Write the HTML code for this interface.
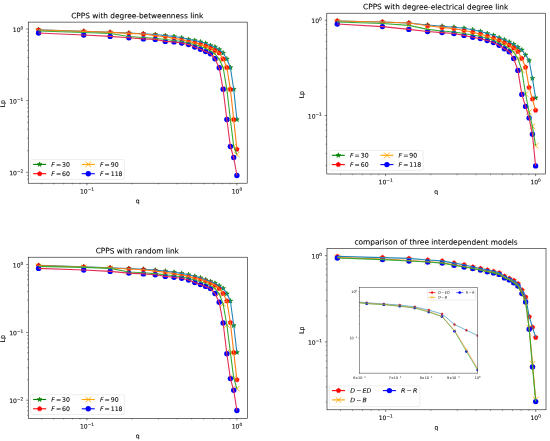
<!DOCTYPE html>
<html><head><meta charset="utf-8"><title>figure</title><style>html,body{margin:0;padding:0;background:#fff}svg{display:block;filter:blur(0.35px)}</style></head><body>
<svg width="550" height="441" viewBox="0 0 550 441" font-family='"DejaVu Sans","Liberation Sans",sans-serif' fill="#000"><style>text{stroke:#000;stroke-width:0.08px}.in text{stroke:none}</style>
<rect width="550" height="441" fill="#fff"/>
<clipPath id="c1"><rect x="28.25" y="22.10" width="218.95" height="161.10"/></clipPath>
<text transform="translate(137.22 18.30) rotate(0.05)" font-size="7.40" text-anchor="middle">CPPS with degree-betweenness link</text>
<g clip-path="url(#c1)">
<polygon points="38.57,27.20 39.13,28.93 40.94,28.93 39.48,30.00 40.04,31.72 38.57,30.65 37.10,31.72 37.66,30.00 36.19,28.93 38.01,28.93" fill="#008000" stroke="#008000" stroke-width="0.61" stroke-linejoin="miter"/>
<polygon points="83.72,28.70 84.28,30.43 86.10,30.43 84.63,31.50 85.19,33.22 83.72,32.15 82.25,33.22 82.81,31.50 81.34,30.43 83.16,30.43" fill="#008000" stroke="#008000" stroke-width="0.61" stroke-linejoin="miter"/>
<polygon points="110.14,29.70 110.70,31.43 112.51,31.43 111.04,32.50 111.60,34.22 110.14,33.15 108.67,34.22 109.23,32.50 107.76,31.43 109.57,31.43" fill="#008000" stroke="#008000" stroke-width="0.61" stroke-linejoin="miter"/>
<polygon points="128.88,30.50 129.44,32.23 131.25,32.23 129.78,33.30 130.35,35.02 128.88,33.95 127.41,35.02 127.97,33.30 126.50,32.23 128.31,32.23" fill="#008000" stroke="#008000" stroke-width="0.61" stroke-linejoin="miter"/>
<polygon points="143.41,31.20 143.97,32.93 145.79,32.93 144.32,34.00 144.88,35.72 143.41,34.65 141.94,35.72 142.50,34.00 141.03,32.93 142.85,32.93" fill="#008000" stroke="#008000" stroke-width="0.61" stroke-linejoin="miter"/>
<polygon points="155.29,32.00 155.85,33.73 157.67,33.73 156.20,34.80 156.76,36.52 155.29,35.45 153.82,36.52 154.38,34.80 152.91,33.73 154.73,33.73" fill="#008000" stroke="#008000" stroke-width="0.61" stroke-linejoin="miter"/>
<polygon points="165.33,33.10 165.89,34.83 167.71,34.83 166.24,35.90 166.80,37.62 165.33,36.55 163.86,37.62 164.42,35.90 162.95,34.83 164.77,34.83" fill="#008000" stroke="#008000" stroke-width="0.61" stroke-linejoin="miter"/>
<polygon points="174.03,34.00 174.59,35.73 176.41,35.73 174.94,36.80 175.50,38.52 174.03,37.45 172.56,38.52 173.12,36.80 171.65,35.73 173.47,35.73" fill="#008000" stroke="#008000" stroke-width="0.61" stroke-linejoin="miter"/>
<polygon points="181.70,35.30 182.26,37.03 184.08,37.03 182.61,38.10 183.17,39.82 181.70,38.75 180.23,39.82 180.80,38.10 179.33,37.03 181.14,37.03" fill="#008000" stroke="#008000" stroke-width="0.61" stroke-linejoin="miter"/>
<polygon points="188.57,36.90 189.13,38.63 190.94,38.63 189.48,39.70 190.04,41.42 188.57,40.35 187.10,41.42 187.66,39.70 186.19,38.63 188.01,38.63" fill="#008000" stroke="#008000" stroke-width="0.61" stroke-linejoin="miter"/>
<polygon points="194.78,38.00 195.34,39.73 197.15,39.73 195.68,40.80 196.25,42.52 194.78,41.45 193.31,42.52 193.87,40.80 192.40,39.73 194.21,39.73" fill="#008000" stroke="#008000" stroke-width="0.61" stroke-linejoin="miter"/>
<polygon points="200.44,39.40 201.01,41.13 202.82,41.13 201.35,42.20 201.91,43.92 200.44,42.85 198.97,43.92 199.54,42.20 198.07,41.13 199.88,41.13" fill="#008000" stroke="#008000" stroke-width="0.61" stroke-linejoin="miter"/>
<polygon points="205.66,40.80 206.22,42.53 208.04,42.53 206.57,43.60 207.13,45.32 205.66,44.25 204.19,45.32 204.75,43.60 203.28,42.53 205.10,42.53" fill="#008000" stroke="#008000" stroke-width="0.61" stroke-linejoin="miter"/>
<polygon points="210.49,43.00 211.05,44.73 212.86,44.73 211.39,45.80 211.96,47.52 210.49,46.45 209.02,47.52 209.58,45.80 208.11,44.73 209.93,44.73" fill="#008000" stroke="#008000" stroke-width="0.61" stroke-linejoin="miter"/>
<polygon points="214.98,44.50 215.54,46.23 217.36,46.23 215.89,47.30 216.45,49.02 214.98,47.95 213.51,49.02 214.07,47.30 212.60,46.23 214.42,46.23" fill="#008000" stroke="#008000" stroke-width="0.61" stroke-linejoin="miter"/>
<polygon points="219.19,47.00 219.75,48.73 221.56,48.73 220.09,49.80 220.65,51.52 219.19,50.45 217.72,51.52 218.28,49.80 216.81,48.73 218.62,48.73" fill="#008000" stroke="#008000" stroke-width="0.61" stroke-linejoin="miter"/>
<polygon points="223.13,50.50 223.70,52.23 225.51,52.23 224.04,53.30 224.60,55.02 223.13,53.95 221.66,55.02 222.23,53.30 220.76,52.23 222.57,52.23" fill="#008000" stroke="#008000" stroke-width="0.61" stroke-linejoin="miter"/>
<polygon points="226.86,56.50 227.42,58.23 229.24,58.23 227.77,59.30 228.33,61.02 226.86,59.95 225.39,61.02 225.95,59.30 224.48,58.23 226.30,58.23" fill="#008000" stroke="#008000" stroke-width="0.61" stroke-linejoin="miter"/>
<polygon points="230.38,65.00 230.94,66.73 232.76,66.73 231.29,67.80 231.85,69.52 230.38,68.45 228.91,69.52 229.47,67.80 228.00,66.73 229.82,66.73" fill="#008000" stroke="#008000" stroke-width="0.61" stroke-linejoin="miter"/>
<polygon points="233.72,86.80 234.28,88.53 236.10,88.53 234.63,89.60 235.19,91.32 233.72,90.25 232.25,91.32 232.81,89.60 231.34,88.53 233.16,88.53" fill="#008000" stroke="#008000" stroke-width="0.61" stroke-linejoin="miter"/>
<polygon points="236.90,117.00 237.46,118.73 239.28,118.73 237.81,119.80 238.37,121.52 236.90,120.45 235.43,121.52 235.99,119.80 234.52,118.73 236.34,118.73" fill="#008000" stroke="#008000" stroke-width="0.61" stroke-linejoin="miter"/>
<polygon points="38.57,27.50 40.94,29.23 40.04,32.02 37.10,32.02 36.19,29.23" fill="#ff0000" stroke="#ff0000" stroke-width="0.37"/>
<polygon points="83.72,28.90 86.10,30.63 85.19,33.42 82.25,33.42 81.34,30.63" fill="#ff0000" stroke="#ff0000" stroke-width="0.37"/>
<polygon points="110.14,29.90 112.51,31.63 111.60,34.42 108.67,34.42 107.76,31.63" fill="#ff0000" stroke="#ff0000" stroke-width="0.37"/>
<polygon points="128.88,30.90 131.25,32.63 130.35,35.42 127.41,35.42 126.50,32.63" fill="#ff0000" stroke="#ff0000" stroke-width="0.37"/>
<polygon points="143.41,31.50 145.79,33.23 144.88,36.02 141.94,36.02 141.03,33.23" fill="#ff0000" stroke="#ff0000" stroke-width="0.37"/>
<polygon points="155.29,33.10 157.67,34.83 156.76,37.62 153.82,37.62 152.91,34.83" fill="#ff0000" stroke="#ff0000" stroke-width="0.37"/>
<polygon points="165.33,34.30 167.71,36.03 166.80,38.82 163.86,38.82 162.95,36.03" fill="#ff0000" stroke="#ff0000" stroke-width="0.37"/>
<polygon points="174.03,35.90 176.41,37.63 175.50,40.42 172.56,40.42 171.65,37.63" fill="#ff0000" stroke="#ff0000" stroke-width="0.37"/>
<polygon points="181.70,37.20 184.08,38.93 183.17,41.72 180.23,41.72 179.33,38.93" fill="#ff0000" stroke="#ff0000" stroke-width="0.37"/>
<polygon points="188.57,38.90 190.94,40.63 190.04,43.42 187.10,43.42 186.19,40.63" fill="#ff0000" stroke="#ff0000" stroke-width="0.37"/>
<polygon points="194.78,40.20 197.15,41.93 196.25,44.72 193.31,44.72 192.40,41.93" fill="#ff0000" stroke="#ff0000" stroke-width="0.37"/>
<polygon points="200.44,41.80 202.82,43.53 201.91,46.32 198.97,46.32 198.07,43.53" fill="#ff0000" stroke="#ff0000" stroke-width="0.37"/>
<polygon points="205.66,43.50 208.04,45.23 207.13,48.02 204.19,48.02 203.28,45.23" fill="#ff0000" stroke="#ff0000" stroke-width="0.37"/>
<polygon points="210.49,45.40 212.86,47.13 211.96,49.92 209.02,49.92 208.11,47.13" fill="#ff0000" stroke="#ff0000" stroke-width="0.37"/>
<polygon points="214.98,47.90 217.36,49.63 216.45,52.42 213.51,52.42 212.60,49.63" fill="#ff0000" stroke="#ff0000" stroke-width="0.37"/>
<polygon points="219.19,50.50 221.56,52.23 220.65,55.02 217.72,55.02 216.81,52.23" fill="#ff0000" stroke="#ff0000" stroke-width="0.37"/>
<polygon points="223.13,56.50 225.51,58.23 224.60,61.02 221.66,61.02 220.76,58.23" fill="#ff0000" stroke="#ff0000" stroke-width="0.37"/>
<polygon points="226.86,65.00 229.24,66.73 228.33,69.52 225.39,69.52 224.48,66.73" fill="#ff0000" stroke="#ff0000" stroke-width="0.37"/>
<polygon points="230.38,86.80 232.76,88.53 231.85,91.32 228.91,91.32 228.00,88.53" fill="#ff0000" stroke="#ff0000" stroke-width="0.37"/>
<polygon points="233.72,117.00 236.10,118.73 235.19,121.52 232.25,121.52 231.34,118.73" fill="#ff0000" stroke="#ff0000" stroke-width="0.37"/>
<polygon points="236.90,146.80 239.28,148.53 238.37,151.32 235.43,151.32 234.52,148.53" fill="#ff0000" stroke="#ff0000" stroke-width="0.37"/>
<path d="M35.77 28.20L41.37 33.80M35.77 33.80L41.37 28.20" stroke="#ffa500" stroke-width="0.85" fill="none"/>
<path d="M80.92 29.70L86.52 35.30M80.92 35.30L86.52 29.70" stroke="#ffa500" stroke-width="0.85" fill="none"/>
<path d="M107.34 30.70L112.94 36.30M107.34 36.30L112.94 30.70" stroke="#ffa500" stroke-width="0.85" fill="none"/>
<path d="M126.08 33.70L131.68 39.30M126.08 39.30L131.68 33.70" stroke="#ffa500" stroke-width="0.85" fill="none"/>
<path d="M140.61 34.70L146.21 40.30M140.61 40.30L146.21 34.70" stroke="#ffa500" stroke-width="0.85" fill="none"/>
<path d="M152.49 35.50L158.09 41.10M152.49 41.10L158.09 35.50" stroke="#ffa500" stroke-width="0.85" fill="none"/>
<path d="M162.53 36.70L168.13 42.30M162.53 42.30L168.13 36.70" stroke="#ffa500" stroke-width="0.85" fill="none"/>
<path d="M171.23 37.70L176.83 43.30M171.23 43.30L176.83 37.70" stroke="#ffa500" stroke-width="0.85" fill="none"/>
<path d="M178.90 38.70L184.50 44.30M178.90 44.30L184.50 38.70" stroke="#ffa500" stroke-width="0.85" fill="none"/>
<path d="M185.77 40.20L191.37 45.80M185.77 45.80L191.37 40.20" stroke="#ffa500" stroke-width="0.85" fill="none"/>
<path d="M191.98 42.00L197.58 47.60M191.98 47.60L197.58 42.00" stroke="#ffa500" stroke-width="0.85" fill="none"/>
<path d="M197.64 43.70L203.24 49.30M197.64 49.30L203.24 43.70" stroke="#ffa500" stroke-width="0.85" fill="none"/>
<path d="M202.86 45.70L208.46 51.30M202.86 51.30L208.46 45.70" stroke="#ffa500" stroke-width="0.85" fill="none"/>
<path d="M207.69 48.20L213.29 53.80M207.69 53.80L213.29 48.20" stroke="#ffa500" stroke-width="0.85" fill="none"/>
<path d="M212.18 51.20L217.78 56.80M212.18 56.80L217.78 51.20" stroke="#ffa500" stroke-width="0.85" fill="none"/>
<path d="M216.39 56.20L221.99 61.80M216.39 61.80L221.99 56.20" stroke="#ffa500" stroke-width="0.85" fill="none"/>
<path d="M220.33 64.70L225.93 70.30M220.33 70.30L225.93 64.70" stroke="#ffa500" stroke-width="0.85" fill="none"/>
<path d="M224.06 86.50L229.66 92.10M224.06 92.10L229.66 86.50" stroke="#ffa500" stroke-width="0.85" fill="none"/>
<path d="M227.58 116.70L233.18 122.30M227.58 122.30L233.18 116.70" stroke="#ffa500" stroke-width="0.85" fill="none"/>
<path d="M230.92 143.70L236.52 149.30M230.92 149.30L236.52 143.70" stroke="#ffa500" stroke-width="0.85" fill="none"/>
<path d="M234.10 151.70L239.70 157.30M234.10 157.30L239.70 151.70" stroke="#ffa500" stroke-width="0.85" fill="none"/>
<circle cx="38.57" cy="33.00" r="2.68" fill="#0000ff"/>
<circle cx="83.72" cy="35.00" r="2.68" fill="#0000ff"/>
<circle cx="110.14" cy="36.40" r="2.68" fill="#0000ff"/>
<circle cx="128.88" cy="37.80" r="2.68" fill="#0000ff"/>
<circle cx="143.41" cy="38.90" r="2.68" fill="#0000ff"/>
<circle cx="155.29" cy="39.40" r="2.68" fill="#0000ff"/>
<circle cx="165.33" cy="41.40" r="2.68" fill="#0000ff"/>
<circle cx="174.03" cy="41.90" r="2.68" fill="#0000ff"/>
<circle cx="181.70" cy="43.00" r="2.68" fill="#0000ff"/>
<circle cx="188.57" cy="44.60" r="2.68" fill="#0000ff"/>
<circle cx="194.78" cy="47.10" r="2.68" fill="#0000ff"/>
<circle cx="200.44" cy="49.30" r="2.68" fill="#0000ff"/>
<circle cx="205.66" cy="51.60" r="2.68" fill="#0000ff"/>
<circle cx="210.49" cy="53.80" r="2.68" fill="#0000ff"/>
<circle cx="214.98" cy="58.80" r="2.68" fill="#0000ff"/>
<circle cx="219.19" cy="67.80" r="2.68" fill="#0000ff"/>
<circle cx="223.13" cy="89.30" r="2.68" fill="#0000ff"/>
<circle cx="226.86" cy="119.50" r="2.68" fill="#0000ff"/>
<circle cx="230.38" cy="146.50" r="2.68" fill="#0000ff"/>
<circle cx="233.72" cy="157.50" r="2.68" fill="#0000ff"/>
<circle cx="236.90" cy="175.50" r="2.68" fill="#0000ff"/>
<polyline points="38.57,29.70 83.72,31.20 110.14,32.20 128.88,33.00 143.41,33.70 155.29,34.50 165.33,35.60 174.03,36.50 181.70,37.80 188.57,39.40 194.78,40.50 200.44,41.90 205.66,43.30 210.49,45.50 214.98,47.00 219.19,49.50 223.13,53.00 226.86,59.00 230.38,67.50 233.72,89.30 236.90,119.50" fill="none" stroke="#2285b6" stroke-width="1.10" stroke-linejoin="round"/>
<polyline points="38.57,30.00 83.72,31.40 110.14,32.40 128.88,33.40 143.41,34.00 155.29,35.60 165.33,36.80 174.03,38.40 181.70,39.70 188.57,41.40 194.78,42.70 200.44,44.30 205.66,46.00 210.49,47.90 214.98,50.40 219.19,53.00 223.13,59.00 226.86,67.50 230.38,89.30 233.72,119.50 236.90,149.30" fill="none" stroke="#ff7c12" stroke-width="1.10" stroke-linejoin="round"/>
<polyline points="38.57,31.00 83.72,32.50 110.14,33.50 128.88,36.50 143.41,37.50 155.29,38.30 165.33,39.50 174.03,40.50 181.70,41.50 188.57,43.00 194.78,44.80 200.44,46.50 205.66,48.50 210.49,51.00 214.98,54.00 219.19,59.00 223.13,67.50 226.86,89.30 230.38,119.50 233.72,146.50 236.90,154.50" fill="none" stroke="#36aa34" stroke-width="1.10" stroke-linejoin="round"/>
<polyline points="38.57,33.00 83.72,35.00 110.14,36.40 128.88,37.80 143.41,38.90 155.29,39.40 165.33,41.40 174.03,41.90 181.70,43.00 188.57,44.60 194.78,47.10 200.44,49.30 205.66,51.60 210.49,53.80 214.98,58.80 219.19,67.80 223.13,89.30 226.86,119.50 230.38,146.50 233.72,157.50 236.90,175.50" fill="none" stroke="#e22c56" stroke-width="1.10" stroke-linejoin="round"/>
</g>
<text transform="translate(23.25 175.20) rotate(0.05)" font-size="6.08" text-anchor="end">10<tspan dy="-2.55" font-size="4.26">−2</tspan></text>
<text transform="translate(86.90 193.40) rotate(0.05)" font-size="6.08" text-anchor="middle">10<tspan dy="-2.55" font-size="4.26">−1</tspan></text>
<text transform="translate(23.25 103.60) rotate(0.05)" font-size="6.08" text-anchor="end">10<tspan dy="-2.55" font-size="4.26">−1</tspan></text>
<text transform="translate(236.90 193.40) rotate(0.05)" font-size="6.08" text-anchor="middle">10<tspan dy="-2.55" font-size="4.26">0</tspan></text>
<text transform="translate(23.25 32.00) rotate(0.05)" font-size="6.08" text-anchor="end">10<tspan dy="-2.55" font-size="4.26">0</tspan></text>
<path d="M28.25 179.24h-1.22" stroke="#000" stroke-width="0.37"/><path d="M28.25 175.58h-1.22" stroke="#000" stroke-width="0.37"/><path d="M28.25 172.30h-2.13" stroke="#000" stroke-width="0.49"/><path d="M28.25 150.75h-1.22" stroke="#000" stroke-width="0.37"/><path d="M28.25 138.14h-1.22" stroke="#000" stroke-width="0.37"/><path d="M28.25 129.19h-1.22" stroke="#000" stroke-width="0.37"/><path d="M41.75 183.20v1.22" stroke="#000" stroke-width="0.37"/><path d="M28.25 122.25h-1.22" stroke="#000" stroke-width="0.37"/><path d="M53.62 183.20v1.22" stroke="#000" stroke-width="0.37"/><path d="M28.25 116.58h-1.22" stroke="#000" stroke-width="0.37"/><path d="M63.66 183.20v1.22" stroke="#000" stroke-width="0.37"/><path d="M28.25 111.79h-1.22" stroke="#000" stroke-width="0.37"/><path d="M72.36 183.20v1.22" stroke="#000" stroke-width="0.37"/><path d="M28.25 107.64h-1.22" stroke="#000" stroke-width="0.37"/><path d="M80.04 183.20v1.22" stroke="#000" stroke-width="0.37"/><path d="M28.25 103.98h-1.22" stroke="#000" stroke-width="0.37"/><path d="M86.90 183.20v2.13" stroke="#000" stroke-width="0.49"/><path d="M28.25 100.70h-2.13" stroke="#000" stroke-width="0.49"/><path d="M132.05 183.20v1.22" stroke="#000" stroke-width="0.37"/><path d="M28.25 79.15h-1.22" stroke="#000" stroke-width="0.37"/><path d="M158.47 183.20v1.22" stroke="#000" stroke-width="0.37"/><path d="M28.25 66.54h-1.22" stroke="#000" stroke-width="0.37"/><path d="M177.21 183.20v1.22" stroke="#000" stroke-width="0.37"/><path d="M28.25 57.59h-1.22" stroke="#000" stroke-width="0.37"/><path d="M191.75 183.20v1.22" stroke="#000" stroke-width="0.37"/><path d="M28.25 50.65h-1.22" stroke="#000" stroke-width="0.37"/><path d="M203.62 183.20v1.22" stroke="#000" stroke-width="0.37"/><path d="M28.25 44.98h-1.22" stroke="#000" stroke-width="0.37"/><path d="M213.66 183.20v1.22" stroke="#000" stroke-width="0.37"/><path d="M28.25 40.19h-1.22" stroke="#000" stroke-width="0.37"/><path d="M222.36 183.20v1.22" stroke="#000" stroke-width="0.37"/><path d="M28.25 36.04h-1.22" stroke="#000" stroke-width="0.37"/><path d="M230.04 183.20v1.22" stroke="#000" stroke-width="0.37"/><path d="M28.25 32.38h-1.22" stroke="#000" stroke-width="0.37"/><path d="M236.90 183.20v2.13" stroke="#000" stroke-width="0.49"/><path d="M28.25 29.10h-2.13" stroke="#000" stroke-width="0.49"/>
<rect x="28.25" y="22.10" width="218.95" height="161.10" fill="none" stroke="#000" stroke-width="0.55"/>
<text transform="translate(137.72 202.90) rotate(0.05)" font-size="6.08" text-anchor="middle">q</text>
<text transform="translate(4.70 103.75) rotate(-89.95)" font-size="6.08" text-anchor="middle">Lp</text>
<rect x="30.55" y="159.60" width="93.90" height="19.80" rx="1.2" fill="#fff" fill-opacity="0.8" stroke="#e0e0e0" stroke-width="0.55"/>
<path d="M33.15 164.40h13" stroke="#008000" stroke-width="1.10"/>
<polygon points="39.65,161.90 40.21,163.63 42.03,163.63 40.56,164.70 41.12,166.42 39.65,165.35 38.18,166.42 38.74,164.70 37.27,163.63 39.09,163.63" fill="#008000" stroke="#008000" stroke-width="0.61" stroke-linejoin="miter"/>
<text transform="translate(51.35 166.65) rotate(0.05)" font-size="6.20"><tspan font-style="italic">F</tspan><tspan dx="1.0">=</tspan><tspan dx="1.0">30</tspan></text>
<path d="M33.15 173.70h13" stroke="#ff0000" stroke-width="1.10"/>
<polygon points="39.65,171.20 42.03,172.93 41.12,175.72 38.18,175.72 37.27,172.93" fill="#ff0000" stroke="#ff0000" stroke-width="0.37"/>
<text transform="translate(51.35 175.95) rotate(0.05)" font-size="6.20"><tspan font-style="italic">F</tspan><tspan dx="1.0">=</tspan><tspan dx="1.0">60</tspan></text>
<path d="M81.75 164.40h13" stroke="#ffa500" stroke-width="1.10"/>
<path d="M85.45 161.60L91.05 167.20M85.45 167.20L91.05 161.60" stroke="#ffa500" stroke-width="0.85" fill="none"/>
<text transform="translate(99.95 166.65) rotate(0.05)" font-size="6.20"><tspan font-style="italic">F</tspan><tspan dx="1.0">=</tspan><tspan dx="1.0">90</tspan></text>
<path d="M81.75 173.70h13" stroke="#0000ff" stroke-width="1.10"/>
<circle cx="88.25" cy="173.70" r="2.68" fill="#0000ff"/>
<text transform="translate(99.95 175.95) rotate(0.05)" font-size="6.20"><tspan font-style="italic">F</tspan><tspan dx="1.0">=</tspan><tspan dx="1.0">118</tspan></text>
<clipPath id="c2"><rect x="326.80" y="13.20" width="218.70" height="160.80"/></clipPath>
<text transform="translate(435.65 9.40) rotate(0.05)" font-size="7.40" text-anchor="middle">CPPS with degree-electrical degree link</text>
<g clip-path="url(#c2)">
<polygon points="337.27,18.50 337.83,20.23 339.64,20.23 338.18,21.30 338.74,23.02 337.27,21.95 335.80,23.02 336.36,21.30 334.89,20.23 336.71,20.23" fill="#008000" stroke="#008000" stroke-width="0.61" stroke-linejoin="miter"/>
<polygon points="382.42,19.50 382.98,21.23 384.80,21.23 383.33,22.30 383.89,24.02 382.42,22.95 380.95,24.02 381.51,22.30 380.04,21.23 381.86,21.23" fill="#008000" stroke="#008000" stroke-width="0.61" stroke-linejoin="miter"/>
<polygon points="408.84,20.50 409.40,22.23 411.21,22.23 409.74,23.30 410.30,25.02 408.84,23.95 407.37,25.02 407.93,23.30 406.46,22.23 408.27,22.23" fill="#008000" stroke="#008000" stroke-width="0.61" stroke-linejoin="miter"/>
<polygon points="427.58,22.50 428.14,24.23 429.95,24.23 428.48,25.30 429.05,27.02 427.58,25.95 426.11,27.02 426.67,25.30 425.20,24.23 427.01,24.23" fill="#008000" stroke="#008000" stroke-width="0.61" stroke-linejoin="miter"/>
<polygon points="442.11,23.70 442.67,25.43 444.49,25.43 443.02,26.50 443.58,28.22 442.11,27.15 440.64,28.22 441.20,26.50 439.73,25.43 441.55,25.43" fill="#008000" stroke="#008000" stroke-width="0.61" stroke-linejoin="miter"/>
<polygon points="453.99,24.70 454.55,26.43 456.37,26.43 454.90,27.50 455.46,29.22 453.99,28.15 452.52,29.22 453.08,27.50 451.61,26.43 453.43,26.43" fill="#008000" stroke="#008000" stroke-width="0.61" stroke-linejoin="miter"/>
<polygon points="464.03,25.70 464.59,27.43 466.41,27.43 464.94,28.50 465.50,30.22 464.03,29.15 462.56,30.22 463.12,28.50 461.65,27.43 463.47,27.43" fill="#008000" stroke="#008000" stroke-width="0.61" stroke-linejoin="miter"/>
<polygon points="472.73,27.30 473.29,29.03 475.11,29.03 473.64,30.10 474.20,31.82 472.73,30.75 471.26,31.82 471.82,30.10 470.35,29.03 472.17,29.03" fill="#008000" stroke="#008000" stroke-width="0.61" stroke-linejoin="miter"/>
<polygon points="480.40,28.90 480.96,30.63 482.78,30.63 481.31,31.70 481.87,33.42 480.40,32.35 478.93,33.42 479.50,31.70 478.03,30.63 479.84,30.63" fill="#008000" stroke="#008000" stroke-width="0.61" stroke-linejoin="miter"/>
<polygon points="487.27,31.00 487.83,32.73 489.64,32.73 488.18,33.80 488.74,35.52 487.27,34.45 485.80,35.52 486.36,33.80 484.89,32.73 486.71,32.73" fill="#008000" stroke="#008000" stroke-width="0.61" stroke-linejoin="miter"/>
<polygon points="493.48,32.80 494.04,34.53 495.85,34.53 494.38,35.60 494.95,37.32 493.48,36.25 492.01,37.32 492.57,35.60 491.10,34.53 492.91,34.53" fill="#008000" stroke="#008000" stroke-width="0.61" stroke-linejoin="miter"/>
<polygon points="499.14,35.30 499.71,37.03 501.52,37.03 500.05,38.10 500.61,39.82 499.14,38.75 497.67,39.82 498.24,38.10 496.77,37.03 498.58,37.03" fill="#008000" stroke="#008000" stroke-width="0.61" stroke-linejoin="miter"/>
<polygon points="504.36,37.30 504.92,39.03 506.74,39.03 505.27,40.10 505.83,41.82 504.36,40.75 502.89,41.82 503.45,40.10 501.98,39.03 503.80,39.03" fill="#008000" stroke="#008000" stroke-width="0.61" stroke-linejoin="miter"/>
<polygon points="509.19,39.50 509.75,41.23 511.56,41.23 510.09,42.30 510.66,44.02 509.19,42.95 507.72,44.02 508.28,42.30 506.81,41.23 508.63,41.23" fill="#008000" stroke="#008000" stroke-width="0.61" stroke-linejoin="miter"/>
<polygon points="513.68,41.80 514.24,43.53 516.06,43.53 514.59,44.60 515.15,46.32 513.68,45.25 512.21,46.32 512.77,44.60 511.30,43.53 513.12,43.53" fill="#008000" stroke="#008000" stroke-width="0.61" stroke-linejoin="miter"/>
<polygon points="517.89,44.70 518.45,46.43 520.26,46.43 518.79,47.50 519.35,49.22 517.89,48.15 516.42,49.22 516.98,47.50 515.51,46.43 517.32,46.43" fill="#008000" stroke="#008000" stroke-width="0.61" stroke-linejoin="miter"/>
<polygon points="521.83,47.50 522.40,49.23 524.21,49.23 522.74,50.30 523.30,52.02 521.83,50.95 520.36,52.02 520.93,50.30 519.46,49.23 521.27,49.23" fill="#008000" stroke="#008000" stroke-width="0.61" stroke-linejoin="miter"/>
<polygon points="525.56,52.50 526.12,54.23 527.94,54.23 526.47,55.30 527.03,57.02 525.56,55.95 524.09,57.02 524.65,55.30 523.18,54.23 525.00,54.23" fill="#008000" stroke="#008000" stroke-width="0.61" stroke-linejoin="miter"/>
<polygon points="529.08,58.00 529.64,59.73 531.46,59.73 529.99,60.80 530.55,62.52 529.08,61.45 527.61,62.52 528.17,60.80 526.70,59.73 528.52,59.73" fill="#008000" stroke="#008000" stroke-width="0.61" stroke-linejoin="miter"/>
<polygon points="532.42,75.80 532.98,77.53 534.80,77.53 533.33,78.60 533.89,80.32 532.42,79.25 530.95,80.32 531.51,78.60 530.04,77.53 531.86,77.53" fill="#008000" stroke="#008000" stroke-width="0.61" stroke-linejoin="miter"/>
<polygon points="535.60,95.30 536.16,97.03 537.98,97.03 536.51,98.10 537.07,99.82 535.60,98.75 534.13,99.82 534.69,98.10 533.22,97.03 535.04,97.03" fill="#008000" stroke="#008000" stroke-width="0.61" stroke-linejoin="miter"/>
<polygon points="337.27,18.50 339.64,20.23 338.74,23.02 335.80,23.02 334.89,20.23" fill="#ff0000" stroke="#ff0000" stroke-width="0.37"/>
<polygon points="382.42,19.50 384.80,21.23 383.89,24.02 380.95,24.02 380.04,21.23" fill="#ff0000" stroke="#ff0000" stroke-width="0.37"/>
<polygon points="408.84,20.50 411.21,22.23 410.30,25.02 407.37,25.02 406.46,22.23" fill="#ff0000" stroke="#ff0000" stroke-width="0.37"/>
<polygon points="427.58,23.30 429.95,25.03 429.05,27.82 426.11,27.82 425.20,25.03" fill="#ff0000" stroke="#ff0000" stroke-width="0.37"/>
<polygon points="442.11,24.90 444.49,26.63 443.58,29.42 440.64,29.42 439.73,26.63" fill="#ff0000" stroke="#ff0000" stroke-width="0.37"/>
<polygon points="453.99,26.10 456.37,27.83 455.46,30.62 452.52,30.62 451.61,27.83" fill="#ff0000" stroke="#ff0000" stroke-width="0.37"/>
<polygon points="464.03,28.00 466.41,29.73 465.50,32.52 462.56,32.52 461.65,29.73" fill="#ff0000" stroke="#ff0000" stroke-width="0.37"/>
<polygon points="472.73,29.80 475.11,31.53 474.20,34.32 471.26,34.32 470.35,31.53" fill="#ff0000" stroke="#ff0000" stroke-width="0.37"/>
<polygon points="480.40,31.60 482.78,33.33 481.87,36.12 478.93,36.12 478.03,33.33" fill="#ff0000" stroke="#ff0000" stroke-width="0.37"/>
<polygon points="487.27,33.80 489.64,35.53 488.74,38.32 485.80,38.32 484.89,35.53" fill="#ff0000" stroke="#ff0000" stroke-width="0.37"/>
<polygon points="493.48,35.80 495.85,37.53 494.95,40.32 492.01,40.32 491.10,37.53" fill="#ff0000" stroke="#ff0000" stroke-width="0.37"/>
<polygon points="499.14,37.80 501.52,39.53 500.61,42.32 497.67,42.32 496.77,39.53" fill="#ff0000" stroke="#ff0000" stroke-width="0.37"/>
<polygon points="504.36,40.30 506.74,42.03 505.83,44.82 502.89,44.82 501.98,42.03" fill="#ff0000" stroke="#ff0000" stroke-width="0.37"/>
<polygon points="509.19,42.50 511.56,44.23 510.66,47.02 507.72,47.02 506.81,44.23" fill="#ff0000" stroke="#ff0000" stroke-width="0.37"/>
<polygon points="513.68,45.50 516.06,47.23 515.15,50.02 512.21,50.02 511.30,47.23" fill="#ff0000" stroke="#ff0000" stroke-width="0.37"/>
<polygon points="517.89,49.00 520.26,50.73 519.35,53.52 516.42,53.52 515.51,50.73" fill="#ff0000" stroke="#ff0000" stroke-width="0.37"/>
<polygon points="521.83,56.00 524.21,57.73 523.30,60.52 520.36,60.52 519.46,57.73" fill="#ff0000" stroke="#ff0000" stroke-width="0.37"/>
<polygon points="525.56,64.80 527.94,66.53 527.03,69.32 524.09,69.32 523.18,66.53" fill="#ff0000" stroke="#ff0000" stroke-width="0.37"/>
<polygon points="529.08,84.90 531.46,86.63 530.55,89.42 527.61,89.42 526.70,86.63" fill="#ff0000" stroke="#ff0000" stroke-width="0.37"/>
<polygon points="532.42,96.60 534.80,98.33 533.89,101.12 530.95,101.12 530.04,98.33" fill="#ff0000" stroke="#ff0000" stroke-width="0.37"/>
<polygon points="535.60,107.80 537.98,109.53 537.07,112.32 534.13,112.32 533.22,109.53" fill="#ff0000" stroke="#ff0000" stroke-width="0.37"/>
<path d="M334.47 19.20L340.07 24.80M334.47 24.80L340.07 19.20" stroke="#ffa500" stroke-width="0.85" fill="none"/>
<path d="M379.62 20.70L385.22 26.30M379.62 26.30L385.22 20.70" stroke="#ffa500" stroke-width="0.85" fill="none"/>
<path d="M406.04 22.60L411.64 28.20M406.04 28.20L411.64 22.60" stroke="#ffa500" stroke-width="0.85" fill="none"/>
<path d="M424.78 26.60L430.38 32.20M424.78 32.20L430.38 26.60" stroke="#ffa500" stroke-width="0.85" fill="none"/>
<path d="M439.31 28.20L444.91 33.80M439.31 33.80L444.91 28.20" stroke="#ffa500" stroke-width="0.85" fill="none"/>
<path d="M451.19 29.20L456.79 34.80M451.19 34.80L456.79 29.20" stroke="#ffa500" stroke-width="0.85" fill="none"/>
<path d="M461.23 30.70L466.83 36.30M461.23 36.30L466.83 30.70" stroke="#ffa500" stroke-width="0.85" fill="none"/>
<path d="M469.93 32.20L475.53 37.80M469.93 37.80L475.53 32.20" stroke="#ffa500" stroke-width="0.85" fill="none"/>
<path d="M477.60 33.70L483.20 39.30M477.60 39.30L483.20 33.70" stroke="#ffa500" stroke-width="0.85" fill="none"/>
<path d="M484.47 35.70L490.07 41.30M484.47 41.30L490.07 35.70" stroke="#ffa500" stroke-width="0.85" fill="none"/>
<path d="M490.68 37.70L496.28 43.30M490.68 43.30L496.28 37.70" stroke="#ffa500" stroke-width="0.85" fill="none"/>
<path d="M496.34 40.20L501.94 45.80M496.34 45.80L501.94 40.20" stroke="#ffa500" stroke-width="0.85" fill="none"/>
<path d="M501.56 42.70L507.16 48.30M501.56 48.30L507.16 42.70" stroke="#ffa500" stroke-width="0.85" fill="none"/>
<path d="M506.39 45.70L511.99 51.30M506.39 51.30L511.99 45.70" stroke="#ffa500" stroke-width="0.85" fill="none"/>
<path d="M510.88 49.20L516.48 54.80M510.88 54.80L516.48 49.20" stroke="#ffa500" stroke-width="0.85" fill="none"/>
<path d="M515.09 55.70L520.69 61.30M515.09 61.30L520.69 55.70" stroke="#ffa500" stroke-width="0.85" fill="none"/>
<path d="M519.03 67.60L524.63 73.20M519.03 73.20L524.63 67.60" stroke="#ffa500" stroke-width="0.85" fill="none"/>
<path d="M522.76 91.20L528.36 96.80M522.76 96.80L528.36 91.20" stroke="#ffa500" stroke-width="0.85" fill="none"/>
<path d="M526.28 109.20L531.88 114.80M526.28 114.80L531.88 109.20" stroke="#ffa500" stroke-width="0.85" fill="none"/>
<path d="M529.62 123.50L535.22 129.10M529.62 129.10L535.22 123.50" stroke="#ffa500" stroke-width="0.85" fill="none"/>
<path d="M532.80 142.90L538.40 148.50M532.80 148.50L538.40 142.90" stroke="#ffa500" stroke-width="0.85" fill="none"/>
<circle cx="337.27" cy="24.00" r="2.68" fill="#0000ff"/>
<circle cx="382.42" cy="26.60" r="2.68" fill="#0000ff"/>
<circle cx="408.84" cy="29.40" r="2.68" fill="#0000ff"/>
<circle cx="427.58" cy="31.50" r="2.68" fill="#0000ff"/>
<circle cx="442.11" cy="32.60" r="2.68" fill="#0000ff"/>
<circle cx="453.99" cy="33.50" r="2.68" fill="#0000ff"/>
<circle cx="464.03" cy="35.40" r="2.68" fill="#0000ff"/>
<circle cx="472.73" cy="37.20" r="2.68" fill="#0000ff"/>
<circle cx="480.40" cy="38.60" r="2.68" fill="#0000ff"/>
<circle cx="487.27" cy="40.50" r="2.68" fill="#0000ff"/>
<circle cx="493.48" cy="42.60" r="2.68" fill="#0000ff"/>
<circle cx="499.14" cy="45.20" r="2.68" fill="#0000ff"/>
<circle cx="504.36" cy="48.80" r="2.68" fill="#0000ff"/>
<circle cx="509.19" cy="51.70" r="2.68" fill="#0000ff"/>
<circle cx="513.68" cy="58.50" r="2.68" fill="#0000ff"/>
<circle cx="517.89" cy="70.40" r="2.68" fill="#0000ff"/>
<circle cx="521.83" cy="94.40" r="2.68" fill="#0000ff"/>
<circle cx="525.56" cy="106.40" r="2.68" fill="#0000ff"/>
<circle cx="529.08" cy="117.90" r="2.68" fill="#0000ff"/>
<circle cx="532.42" cy="134.30" r="2.68" fill="#0000ff"/>
<circle cx="535.60" cy="165.90" r="2.68" fill="#0000ff"/>
<polyline points="337.27,21.00 382.42,22.00 408.84,23.00 427.58,25.00 442.11,26.20 453.99,27.20 464.03,28.20 472.73,29.80 480.40,31.40 487.27,33.50 493.48,35.30 499.14,37.80 504.36,39.80 509.19,42.00 513.68,44.30 517.89,47.20 521.83,50.00 525.56,55.00 529.08,60.50 532.42,78.30 535.60,97.80" fill="none" stroke="#2285b6" stroke-width="1.10" stroke-linejoin="round"/>
<polyline points="337.27,21.00 382.42,22.00 408.84,23.00 427.58,25.80 442.11,27.40 453.99,28.60 464.03,30.50 472.73,32.30 480.40,34.10 487.27,36.30 493.48,38.30 499.14,40.30 504.36,42.80 509.19,45.00 513.68,48.00 517.89,51.50 521.83,58.50 525.56,67.30 529.08,87.40 532.42,99.10 535.60,110.30" fill="none" stroke="#ff7c12" stroke-width="1.10" stroke-linejoin="round"/>
<polyline points="337.27,22.00 382.42,23.50 408.84,25.40 427.58,29.40 442.11,31.00 453.99,32.00 464.03,33.50 472.73,35.00 480.40,36.50 487.27,38.50 493.48,40.50 499.14,43.00 504.36,45.50 509.19,48.50 513.68,52.00 517.89,58.50 521.83,70.40 525.56,94.00 529.08,112.00 532.42,126.30 535.60,145.70" fill="none" stroke="#36aa34" stroke-width="1.10" stroke-linejoin="round"/>
<polyline points="337.27,24.00 382.42,26.60 408.84,29.40 427.58,31.50 442.11,32.60 453.99,33.50 464.03,35.40 472.73,37.20 480.40,38.60 487.27,40.50 493.48,42.60 499.14,45.20 504.36,48.80 509.19,51.70 513.68,58.50 517.89,70.40 521.83,94.40 525.56,106.40 529.08,117.90 532.42,134.30 535.60,165.90" fill="none" stroke="#e22c56" stroke-width="1.10" stroke-linejoin="round"/>
</g>
<text transform="translate(385.60 184.20) rotate(0.05)" font-size="6.08" text-anchor="middle">10<tspan dy="-2.55" font-size="4.26">−1</tspan></text>
<text transform="translate(321.80 118.40) rotate(0.05)" font-size="6.08" text-anchor="end">10<tspan dy="-2.55" font-size="4.26">−1</tspan></text>
<text transform="translate(535.60 184.20) rotate(0.05)" font-size="6.08" text-anchor="middle">10<tspan dy="-2.55" font-size="4.26">0</tspan></text>
<text transform="translate(321.80 23.10) rotate(0.05)" font-size="6.08" text-anchor="end">10<tspan dy="-2.55" font-size="4.26">0</tspan></text>
<path d="M326.80 165.33h-1.22" stroke="#000" stroke-width="0.37"/><path d="M326.80 153.42h-1.22" stroke="#000" stroke-width="0.37"/><path d="M340.45 174.00v1.22" stroke="#000" stroke-width="0.37"/><path d="M326.80 144.19h-1.22" stroke="#000" stroke-width="0.37"/><path d="M352.32 174.00v1.22" stroke="#000" stroke-width="0.37"/><path d="M326.80 136.64h-1.22" stroke="#000" stroke-width="0.37"/><path d="M362.36 174.00v1.22" stroke="#000" stroke-width="0.37"/><path d="M326.80 130.26h-1.22" stroke="#000" stroke-width="0.37"/><path d="M371.06 174.00v1.22" stroke="#000" stroke-width="0.37"/><path d="M326.80 124.74h-1.22" stroke="#000" stroke-width="0.37"/><path d="M378.74 174.00v1.22" stroke="#000" stroke-width="0.37"/><path d="M326.80 119.86h-1.22" stroke="#000" stroke-width="0.37"/><path d="M385.60 174.00v2.13" stroke="#000" stroke-width="0.49"/><path d="M326.80 115.50h-2.13" stroke="#000" stroke-width="0.49"/><path d="M430.75 174.00v1.22" stroke="#000" stroke-width="0.37"/><path d="M326.80 86.81h-1.22" stroke="#000" stroke-width="0.37"/><path d="M457.17 174.00v1.22" stroke="#000" stroke-width="0.37"/><path d="M326.80 70.03h-1.22" stroke="#000" stroke-width="0.37"/><path d="M475.91 174.00v1.22" stroke="#000" stroke-width="0.37"/><path d="M326.80 58.12h-1.22" stroke="#000" stroke-width="0.37"/><path d="M490.45 174.00v1.22" stroke="#000" stroke-width="0.37"/><path d="M326.80 48.89h-1.22" stroke="#000" stroke-width="0.37"/><path d="M502.32 174.00v1.22" stroke="#000" stroke-width="0.37"/><path d="M326.80 41.34h-1.22" stroke="#000" stroke-width="0.37"/><path d="M512.36 174.00v1.22" stroke="#000" stroke-width="0.37"/><path d="M326.80 34.96h-1.22" stroke="#000" stroke-width="0.37"/><path d="M521.06 174.00v1.22" stroke="#000" stroke-width="0.37"/><path d="M326.80 29.44h-1.22" stroke="#000" stroke-width="0.37"/><path d="M528.74 174.00v1.22" stroke="#000" stroke-width="0.37"/><path d="M326.80 24.56h-1.22" stroke="#000" stroke-width="0.37"/><path d="M535.60 174.00v2.13" stroke="#000" stroke-width="0.49"/><path d="M326.80 20.20h-2.13" stroke="#000" stroke-width="0.49"/>
<rect x="326.80" y="13.20" width="218.70" height="160.80" fill="none" stroke="#000" stroke-width="0.55"/>
<text transform="translate(436.15 193.70) rotate(0.05)" font-size="6.08" text-anchor="middle">q</text>
<text transform="translate(303.70 94.70) rotate(-89.95)" font-size="6.08" text-anchor="middle">Lp</text>
<rect x="329.20" y="150.50" width="93.90" height="19.80" rx="1.2" fill="#fff" fill-opacity="0.8" stroke="#e0e0e0" stroke-width="0.55"/>
<path d="M331.80 155.30h13" stroke="#008000" stroke-width="1.10"/>
<polygon points="338.30,152.80 338.86,154.53 340.68,154.53 339.21,155.60 339.77,157.32 338.30,156.25 336.83,157.32 337.39,155.60 335.92,154.53 337.74,154.53" fill="#008000" stroke="#008000" stroke-width="0.61" stroke-linejoin="miter"/>
<text transform="translate(350.00 157.55) rotate(0.05)" font-size="6.20"><tspan font-style="italic">F</tspan><tspan dx="1.0">=</tspan><tspan dx="1.0">30</tspan></text>
<path d="M331.80 164.60h13" stroke="#ff0000" stroke-width="1.10"/>
<polygon points="338.30,162.10 340.68,163.83 339.77,166.62 336.83,166.62 335.92,163.83" fill="#ff0000" stroke="#ff0000" stroke-width="0.37"/>
<text transform="translate(350.00 166.85) rotate(0.05)" font-size="6.20"><tspan font-style="italic">F</tspan><tspan dx="1.0">=</tspan><tspan dx="1.0">60</tspan></text>
<path d="M380.40 155.30h13" stroke="#ffa500" stroke-width="1.10"/>
<path d="M384.10 152.50L389.70 158.10M384.10 158.10L389.70 152.50" stroke="#ffa500" stroke-width="0.85" fill="none"/>
<text transform="translate(398.60 157.55) rotate(0.05)" font-size="6.20"><tspan font-style="italic">F</tspan><tspan dx="1.0">=</tspan><tspan dx="1.0">90</tspan></text>
<path d="M380.40 164.60h13" stroke="#0000ff" stroke-width="1.10"/>
<circle cx="386.90" cy="164.60" r="2.68" fill="#0000ff"/>
<text transform="translate(398.60 166.85) rotate(0.05)" font-size="6.20"><tspan font-style="italic">F</tspan><tspan dx="1.0">=</tspan><tspan dx="1.0">118</tspan></text>
<clipPath id="c3"><rect x="28.25" y="257.20" width="219.05" height="161.10"/></clipPath>
<text transform="translate(137.28 253.40) rotate(0.05)" font-size="7.40" text-anchor="middle">CPPS with random link</text>
<g clip-path="url(#c3)">
<polygon points="38.57,262.90 39.13,264.63 40.94,264.63 39.48,265.70 40.04,267.42 38.57,266.35 37.10,267.42 37.66,265.70 36.19,264.63 38.01,264.63" fill="#008000" stroke="#008000" stroke-width="0.61" stroke-linejoin="miter"/>
<polygon points="83.72,264.20 84.28,265.93 86.10,265.93 84.63,267.00 85.19,268.72 83.72,267.65 82.25,268.72 82.81,267.00 81.34,265.93 83.16,265.93" fill="#008000" stroke="#008000" stroke-width="0.61" stroke-linejoin="miter"/>
<polygon points="110.14,265.20 110.70,266.93 112.51,266.93 111.04,268.00 111.60,269.72 110.14,268.65 108.67,269.72 109.23,268.00 107.76,266.93 109.57,266.93" fill="#008000" stroke="#008000" stroke-width="0.61" stroke-linejoin="miter"/>
<polygon points="128.88,266.00 129.44,267.73 131.25,267.73 129.78,268.80 130.35,270.52 128.88,269.45 127.41,270.52 127.97,268.80 126.50,267.73 128.31,267.73" fill="#008000" stroke="#008000" stroke-width="0.61" stroke-linejoin="miter"/>
<polygon points="143.41,266.70 143.97,268.43 145.79,268.43 144.32,269.50 144.88,271.22 143.41,270.15 141.94,271.22 142.50,269.50 141.03,268.43 142.85,268.43" fill="#008000" stroke="#008000" stroke-width="0.61" stroke-linejoin="miter"/>
<polygon points="155.29,267.60 155.85,269.33 157.67,269.33 156.20,270.40 156.76,272.12 155.29,271.05 153.82,272.12 154.38,270.40 152.91,269.33 154.73,269.33" fill="#008000" stroke="#008000" stroke-width="0.61" stroke-linejoin="miter"/>
<polygon points="165.33,268.60 165.89,270.33 167.71,270.33 166.24,271.40 166.80,273.12 165.33,272.05 163.86,273.12 164.42,271.40 162.95,270.33 164.77,270.33" fill="#008000" stroke="#008000" stroke-width="0.61" stroke-linejoin="miter"/>
<polygon points="174.03,269.80 174.59,271.53 176.41,271.53 174.94,272.60 175.50,274.32 174.03,273.25 172.56,274.32 173.12,272.60 171.65,271.53 173.47,271.53" fill="#008000" stroke="#008000" stroke-width="0.61" stroke-linejoin="miter"/>
<polygon points="181.70,270.90 182.26,272.63 184.08,272.63 182.61,273.70 183.17,275.42 181.70,274.35 180.23,275.42 180.80,273.70 179.33,272.63 181.14,272.63" fill="#008000" stroke="#008000" stroke-width="0.61" stroke-linejoin="miter"/>
<polygon points="188.57,272.20 189.13,273.93 190.94,273.93 189.48,275.00 190.04,276.72 188.57,275.65 187.10,276.72 187.66,275.00 186.19,273.93 188.01,273.93" fill="#008000" stroke="#008000" stroke-width="0.61" stroke-linejoin="miter"/>
<polygon points="194.78,273.80 195.34,275.53 197.15,275.53 195.68,276.60 196.25,278.32 194.78,277.25 193.31,278.32 193.87,276.60 192.40,275.53 194.21,275.53" fill="#008000" stroke="#008000" stroke-width="0.61" stroke-linejoin="miter"/>
<polygon points="200.44,275.30 201.01,277.03 202.82,277.03 201.35,278.10 201.91,279.82 200.44,278.75 198.97,279.82 199.54,278.10 198.07,277.03 199.88,277.03" fill="#008000" stroke="#008000" stroke-width="0.61" stroke-linejoin="miter"/>
<polygon points="205.66,277.30 206.22,279.03 208.04,279.03 206.57,280.10 207.13,281.82 205.66,280.75 204.19,281.82 204.75,280.10 203.28,279.03 205.10,279.03" fill="#008000" stroke="#008000" stroke-width="0.61" stroke-linejoin="miter"/>
<polygon points="210.49,279.00 211.05,280.73 212.86,280.73 211.39,281.80 211.96,283.52 210.49,282.45 209.02,283.52 209.58,281.80 208.11,280.73 209.93,280.73" fill="#008000" stroke="#008000" stroke-width="0.61" stroke-linejoin="miter"/>
<polygon points="214.98,280.70 215.54,282.43 217.36,282.43 215.89,283.50 216.45,285.22 214.98,284.15 213.51,285.22 214.07,283.50 212.60,282.43 214.42,282.43" fill="#008000" stroke="#008000" stroke-width="0.61" stroke-linejoin="miter"/>
<polygon points="219.19,283.30 219.75,285.03 221.56,285.03 220.09,286.10 220.65,287.82 219.19,286.75 217.72,287.82 218.28,286.10 216.81,285.03 218.62,285.03" fill="#008000" stroke="#008000" stroke-width="0.61" stroke-linejoin="miter"/>
<polygon points="223.13,285.90 223.70,287.63 225.51,287.63 224.04,288.70 224.60,290.42 223.13,289.35 221.66,290.42 222.23,288.70 220.76,287.63 222.57,287.63" fill="#008000" stroke="#008000" stroke-width="0.61" stroke-linejoin="miter"/>
<polygon points="226.86,291.30 227.42,293.03 229.24,293.03 227.77,294.10 228.33,295.82 226.86,294.75 225.39,295.82 225.95,294.10 224.48,293.03 226.30,293.03" fill="#008000" stroke="#008000" stroke-width="0.61" stroke-linejoin="miter"/>
<polygon points="230.38,298.50 230.94,300.23 232.76,300.23 231.29,301.30 231.85,303.02 230.38,301.95 228.91,303.02 229.47,301.30 228.00,300.23 229.82,300.23" fill="#008000" stroke="#008000" stroke-width="0.61" stroke-linejoin="miter"/>
<polygon points="233.72,323.00 234.28,324.73 236.10,324.73 234.63,325.80 235.19,327.52 233.72,326.45 232.25,327.52 232.81,325.80 231.34,324.73 233.16,324.73" fill="#008000" stroke="#008000" stroke-width="0.61" stroke-linejoin="miter"/>
<polygon points="236.90,349.90 237.46,351.63 239.28,351.63 237.81,352.70 238.37,354.42 236.90,353.35 235.43,354.42 235.99,352.70 234.52,351.63 236.34,351.63" fill="#008000" stroke="#008000" stroke-width="0.61" stroke-linejoin="miter"/>
<polygon points="38.57,263.10 40.94,264.83 40.04,267.62 37.10,267.62 36.19,264.83" fill="#ff0000" stroke="#ff0000" stroke-width="0.37"/>
<polygon points="83.72,264.50 86.10,266.23 85.19,269.02 82.25,269.02 81.34,266.23" fill="#ff0000" stroke="#ff0000" stroke-width="0.37"/>
<polygon points="110.14,265.50 112.51,267.23 111.60,270.02 108.67,270.02 107.76,267.23" fill="#ff0000" stroke="#ff0000" stroke-width="0.37"/>
<polygon points="128.88,266.50 131.25,268.23 130.35,271.02 127.41,271.02 126.50,268.23" fill="#ff0000" stroke="#ff0000" stroke-width="0.37"/>
<polygon points="143.41,267.30 145.79,269.03 144.88,271.82 141.94,271.82 141.03,269.03" fill="#ff0000" stroke="#ff0000" stroke-width="0.37"/>
<polygon points="155.29,268.60 157.67,270.33 156.76,273.12 153.82,273.12 152.91,270.33" fill="#ff0000" stroke="#ff0000" stroke-width="0.37"/>
<polygon points="165.33,269.80 167.71,271.53 166.80,274.32 163.86,274.32 162.95,271.53" fill="#ff0000" stroke="#ff0000" stroke-width="0.37"/>
<polygon points="174.03,271.40 176.41,273.13 175.50,275.92 172.56,275.92 171.65,273.13" fill="#ff0000" stroke="#ff0000" stroke-width="0.37"/>
<polygon points="181.70,272.50 184.08,274.23 183.17,277.02 180.23,277.02 179.33,274.23" fill="#ff0000" stroke="#ff0000" stroke-width="0.37"/>
<polygon points="188.57,273.90 190.94,275.63 190.04,278.42 187.10,278.42 186.19,275.63" fill="#ff0000" stroke="#ff0000" stroke-width="0.37"/>
<polygon points="194.78,275.50 197.15,277.23 196.25,280.02 193.31,280.02 192.40,277.23" fill="#ff0000" stroke="#ff0000" stroke-width="0.37"/>
<polygon points="200.44,276.80 202.82,278.53 201.91,281.32 198.97,281.32 198.07,278.53" fill="#ff0000" stroke="#ff0000" stroke-width="0.37"/>
<polygon points="205.66,278.50 208.04,280.23 207.13,283.02 204.19,283.02 203.28,280.23" fill="#ff0000" stroke="#ff0000" stroke-width="0.37"/>
<polygon points="210.49,280.40 212.86,282.13 211.96,284.92 209.02,284.92 208.11,282.13" fill="#ff0000" stroke="#ff0000" stroke-width="0.37"/>
<polygon points="214.98,282.70 217.36,284.43 216.45,287.22 213.51,287.22 212.60,284.43" fill="#ff0000" stroke="#ff0000" stroke-width="0.37"/>
<polygon points="219.19,286.00 221.56,287.73 220.65,290.52 217.72,290.52 216.81,287.73" fill="#ff0000" stroke="#ff0000" stroke-width="0.37"/>
<polygon points="223.13,291.00 225.51,292.73 224.60,295.52 221.66,295.52 220.76,292.73" fill="#ff0000" stroke="#ff0000" stroke-width="0.37"/>
<polygon points="226.86,298.50 229.24,300.23 228.33,303.02 225.39,303.02 224.48,300.23" fill="#ff0000" stroke="#ff0000" stroke-width="0.37"/>
<polygon points="230.38,320.00 232.76,321.73 231.85,324.52 228.91,324.52 228.00,321.73" fill="#ff0000" stroke="#ff0000" stroke-width="0.37"/>
<polygon points="233.72,349.90 236.10,351.63 235.19,354.42 232.25,354.42 231.34,351.63" fill="#ff0000" stroke="#ff0000" stroke-width="0.37"/>
<polygon points="236.90,377.30 239.28,379.03 238.37,381.82 235.43,381.82 234.52,379.03" fill="#ff0000" stroke="#ff0000" stroke-width="0.37"/>
<path d="M35.77 263.60L41.37 269.20M35.77 269.20L41.37 263.60" stroke="#ffa500" stroke-width="0.85" fill="none"/>
<path d="M80.92 264.60L86.52 270.20M80.92 270.20L86.52 264.60" stroke="#ffa500" stroke-width="0.85" fill="none"/>
<path d="M107.34 265.60L112.94 271.20M107.34 271.20L112.94 265.60" stroke="#ffa500" stroke-width="0.85" fill="none"/>
<path d="M126.08 269.20L131.68 274.80M126.08 274.80L131.68 269.20" stroke="#ffa500" stroke-width="0.85" fill="none"/>
<path d="M140.61 270.00L146.21 275.60M140.61 275.60L146.21 270.00" stroke="#ffa500" stroke-width="0.85" fill="none"/>
<path d="M152.49 270.80L158.09 276.40M152.49 276.40L158.09 270.80" stroke="#ffa500" stroke-width="0.85" fill="none"/>
<path d="M162.53 272.00L168.13 277.60M162.53 277.60L168.13 272.00" stroke="#ffa500" stroke-width="0.85" fill="none"/>
<path d="M171.23 273.00L176.83 278.60M171.23 278.60L176.83 273.00" stroke="#ffa500" stroke-width="0.85" fill="none"/>
<path d="M178.90 274.00L184.50 279.60M178.90 279.60L184.50 274.00" stroke="#ffa500" stroke-width="0.85" fill="none"/>
<path d="M185.77 275.40L191.37 281.00M185.77 281.00L191.37 275.40" stroke="#ffa500" stroke-width="0.85" fill="none"/>
<path d="M191.98 277.20L197.58 282.80M191.98 282.80L197.58 277.20" stroke="#ffa500" stroke-width="0.85" fill="none"/>
<path d="M197.64 278.90L203.24 284.50M197.64 284.50L203.24 278.90" stroke="#ffa500" stroke-width="0.85" fill="none"/>
<path d="M202.86 280.70L208.46 286.30M202.86 286.30L208.46 280.70" stroke="#ffa500" stroke-width="0.85" fill="none"/>
<path d="M207.69 283.00L213.29 288.60M207.69 288.60L213.29 283.00" stroke="#ffa500" stroke-width="0.85" fill="none"/>
<path d="M212.18 285.70L217.78 291.30M212.18 291.30L217.78 285.70" stroke="#ffa500" stroke-width="0.85" fill="none"/>
<path d="M216.39 291.00L221.99 296.60M216.39 296.60L221.99 291.00" stroke="#ffa500" stroke-width="0.85" fill="none"/>
<path d="M220.33 301.20L225.93 306.80M220.33 306.80L225.93 301.20" stroke="#ffa500" stroke-width="0.85" fill="none"/>
<path d="M224.06 322.20L229.66 327.80M224.06 327.80L229.66 322.20" stroke="#ffa500" stroke-width="0.85" fill="none"/>
<path d="M227.58 349.60L233.18 355.20M227.58 355.20L233.18 349.60" stroke="#ffa500" stroke-width="0.85" fill="none"/>
<path d="M230.92 375.20L236.52 380.80M230.92 380.80L236.52 375.20" stroke="#ffa500" stroke-width="0.85" fill="none"/>
<path d="M234.10 385.80L239.70 391.40M234.10 391.40L239.70 385.80" stroke="#ffa500" stroke-width="0.85" fill="none"/>
<circle cx="38.57" cy="268.40" r="2.68" fill="#0000ff"/>
<circle cx="83.72" cy="270.00" r="2.68" fill="#0000ff"/>
<circle cx="110.14" cy="271.40" r="2.68" fill="#0000ff"/>
<circle cx="128.88" cy="273.10" r="2.68" fill="#0000ff"/>
<circle cx="143.41" cy="273.90" r="2.68" fill="#0000ff"/>
<circle cx="155.29" cy="274.70" r="2.68" fill="#0000ff"/>
<circle cx="165.33" cy="276.40" r="2.68" fill="#0000ff"/>
<circle cx="174.03" cy="277.20" r="2.68" fill="#0000ff"/>
<circle cx="181.70" cy="278.30" r="2.68" fill="#0000ff"/>
<circle cx="188.57" cy="280.00" r="2.68" fill="#0000ff"/>
<circle cx="194.78" cy="282.50" r="2.68" fill="#0000ff"/>
<circle cx="200.44" cy="284.60" r="2.68" fill="#0000ff"/>
<circle cx="205.66" cy="286.40" r="2.68" fill="#0000ff"/>
<circle cx="210.49" cy="288.60" r="2.68" fill="#0000ff"/>
<circle cx="214.98" cy="293.50" r="2.68" fill="#0000ff"/>
<circle cx="219.19" cy="302.20" r="2.68" fill="#0000ff"/>
<circle cx="223.13" cy="323.00" r="2.68" fill="#0000ff"/>
<circle cx="226.86" cy="353.70" r="2.68" fill="#0000ff"/>
<circle cx="230.38" cy="378.60" r="2.68" fill="#0000ff"/>
<circle cx="233.72" cy="390.30" r="2.68" fill="#0000ff"/>
<circle cx="236.90" cy="410.50" r="2.68" fill="#0000ff"/>
<polyline points="38.57,265.40 83.72,266.70 110.14,267.70 128.88,268.50 143.41,269.20 155.29,270.10 165.33,271.10 174.03,272.30 181.70,273.40 188.57,274.70 194.78,276.30 200.44,277.80 205.66,279.80 210.49,281.50 214.98,283.20 219.19,285.80 223.13,288.40 226.86,293.80 230.38,301.00 233.72,325.50 236.90,352.40" fill="none" stroke="#2285b6" stroke-width="1.10" stroke-linejoin="round"/>
<polyline points="38.57,265.60 83.72,267.00 110.14,268.00 128.88,269.00 143.41,269.80 155.29,271.10 165.33,272.30 174.03,273.90 181.70,275.00 188.57,276.40 194.78,278.00 200.44,279.30 205.66,281.00 210.49,282.90 214.98,285.20 219.19,288.50 223.13,293.50 226.86,301.00 230.38,322.50 233.72,352.40 236.90,379.80" fill="none" stroke="#ff7c12" stroke-width="1.10" stroke-linejoin="round"/>
<polyline points="38.57,266.40 83.72,267.40 110.14,268.40 128.88,272.00 143.41,272.80 155.29,273.60 165.33,274.80 174.03,275.80 181.70,276.80 188.57,278.20 194.78,280.00 200.44,281.70 205.66,283.50 210.49,285.80 214.98,288.50 219.19,293.80 223.13,304.00 226.86,325.00 230.38,352.40 233.72,378.00 236.90,388.60" fill="none" stroke="#36aa34" stroke-width="1.10" stroke-linejoin="round"/>
<polyline points="38.57,268.40 83.72,270.00 110.14,271.40 128.88,273.10 143.41,273.90 155.29,274.70 165.33,276.40 174.03,277.20 181.70,278.30 188.57,280.00 194.78,282.50 200.44,284.60 205.66,286.40 210.49,288.60 214.98,293.50 219.19,302.20 223.13,323.00 226.86,353.70 230.38,378.60 233.72,390.30 236.90,410.50" fill="none" stroke="#e22c56" stroke-width="1.10" stroke-linejoin="round"/>
</g>
<text transform="translate(23.25 403.10) rotate(0.05)" font-size="6.08" text-anchor="end">10<tspan dy="-2.55" font-size="4.26">−2</tspan></text>
<text transform="translate(86.90 428.50) rotate(0.05)" font-size="6.08" text-anchor="middle">10<tspan dy="-2.55" font-size="4.26">−1</tspan></text>
<text transform="translate(23.25 335.30) rotate(0.05)" font-size="6.08" text-anchor="end">10<tspan dy="-2.55" font-size="4.26">−1</tspan></text>
<text transform="translate(236.90 428.50) rotate(0.05)" font-size="6.08" text-anchor="middle">10<tspan dy="-2.55" font-size="4.26">0</tspan></text>
<text transform="translate(23.25 267.50) rotate(0.05)" font-size="6.08" text-anchor="end">10<tspan dy="-2.55" font-size="4.26">0</tspan></text>
<path d="M28.25 415.24h-1.22" stroke="#000" stroke-width="0.37"/><path d="M28.25 410.70h-1.22" stroke="#000" stroke-width="0.37"/><path d="M28.25 406.77h-1.22" stroke="#000" stroke-width="0.37"/><path d="M28.25 403.30h-1.22" stroke="#000" stroke-width="0.37"/><path d="M28.25 400.20h-2.13" stroke="#000" stroke-width="0.49"/><path d="M28.25 379.79h-1.22" stroke="#000" stroke-width="0.37"/><path d="M28.25 367.85h-1.22" stroke="#000" stroke-width="0.37"/><path d="M28.25 359.38h-1.22" stroke="#000" stroke-width="0.37"/><path d="M41.75 418.30v1.22" stroke="#000" stroke-width="0.37"/><path d="M28.25 352.81h-1.22" stroke="#000" stroke-width="0.37"/><path d="M53.62 418.30v1.22" stroke="#000" stroke-width="0.37"/><path d="M28.25 347.44h-1.22" stroke="#000" stroke-width="0.37"/><path d="M63.66 418.30v1.22" stroke="#000" stroke-width="0.37"/><path d="M28.25 342.90h-1.22" stroke="#000" stroke-width="0.37"/><path d="M72.36 418.30v1.22" stroke="#000" stroke-width="0.37"/><path d="M28.25 338.97h-1.22" stroke="#000" stroke-width="0.37"/><path d="M80.04 418.30v1.22" stroke="#000" stroke-width="0.37"/><path d="M28.25 335.50h-1.22" stroke="#000" stroke-width="0.37"/><path d="M86.90 418.30v2.13" stroke="#000" stroke-width="0.49"/><path d="M28.25 332.40h-2.13" stroke="#000" stroke-width="0.49"/><path d="M132.05 418.30v1.22" stroke="#000" stroke-width="0.37"/><path d="M28.25 311.99h-1.22" stroke="#000" stroke-width="0.37"/><path d="M158.47 418.30v1.22" stroke="#000" stroke-width="0.37"/><path d="M28.25 300.05h-1.22" stroke="#000" stroke-width="0.37"/><path d="M177.21 418.30v1.22" stroke="#000" stroke-width="0.37"/><path d="M28.25 291.58h-1.22" stroke="#000" stroke-width="0.37"/><path d="M191.75 418.30v1.22" stroke="#000" stroke-width="0.37"/><path d="M28.25 285.01h-1.22" stroke="#000" stroke-width="0.37"/><path d="M203.62 418.30v1.22" stroke="#000" stroke-width="0.37"/><path d="M28.25 279.64h-1.22" stroke="#000" stroke-width="0.37"/><path d="M213.66 418.30v1.22" stroke="#000" stroke-width="0.37"/><path d="M28.25 275.10h-1.22" stroke="#000" stroke-width="0.37"/><path d="M222.36 418.30v1.22" stroke="#000" stroke-width="0.37"/><path d="M28.25 271.17h-1.22" stroke="#000" stroke-width="0.37"/><path d="M230.04 418.30v1.22" stroke="#000" stroke-width="0.37"/><path d="M28.25 267.70h-1.22" stroke="#000" stroke-width="0.37"/><path d="M236.90 418.30v2.13" stroke="#000" stroke-width="0.49"/><path d="M28.25 264.60h-2.13" stroke="#000" stroke-width="0.49"/>
<rect x="28.25" y="257.20" width="219.05" height="161.10" fill="none" stroke="#000" stroke-width="0.55"/>
<text transform="translate(137.78 438.00) rotate(0.05)" font-size="6.08" text-anchor="middle">q</text>
<text transform="translate(4.70 338.85) rotate(-89.95)" font-size="6.08" text-anchor="middle">Lp</text>
<rect x="30.55" y="394.70" width="93.90" height="19.80" rx="1.2" fill="#fff" fill-opacity="0.8" stroke="#e0e0e0" stroke-width="0.55"/>
<path d="M33.15 399.50h13" stroke="#008000" stroke-width="1.10"/>
<polygon points="39.65,397.00 40.21,398.73 42.03,398.73 40.56,399.80 41.12,401.52 39.65,400.45 38.18,401.52 38.74,399.80 37.27,398.73 39.09,398.73" fill="#008000" stroke="#008000" stroke-width="0.61" stroke-linejoin="miter"/>
<text transform="translate(51.35 401.75) rotate(0.05)" font-size="6.20"><tspan font-style="italic">F</tspan><tspan dx="1.0">=</tspan><tspan dx="1.0">30</tspan></text>
<path d="M33.15 408.80h13" stroke="#ff0000" stroke-width="1.10"/>
<polygon points="39.65,406.30 42.03,408.03 41.12,410.82 38.18,410.82 37.27,408.03" fill="#ff0000" stroke="#ff0000" stroke-width="0.37"/>
<text transform="translate(51.35 411.05) rotate(0.05)" font-size="6.20"><tspan font-style="italic">F</tspan><tspan dx="1.0">=</tspan><tspan dx="1.0">60</tspan></text>
<path d="M81.75 399.50h13" stroke="#ffa500" stroke-width="1.10"/>
<path d="M85.45 396.70L91.05 402.30M85.45 402.30L91.05 396.70" stroke="#ffa500" stroke-width="0.85" fill="none"/>
<text transform="translate(99.95 401.75) rotate(0.05)" font-size="6.20"><tspan font-style="italic">F</tspan><tspan dx="1.0">=</tspan><tspan dx="1.0">90</tspan></text>
<path d="M81.75 408.80h13" stroke="#0000ff" stroke-width="1.10"/>
<circle cx="88.25" cy="408.80" r="2.68" fill="#0000ff"/>
<text transform="translate(99.95 411.05) rotate(0.05)" font-size="6.20"><tspan font-style="italic">F</tspan><tspan dx="1.0">=</tspan><tspan dx="1.0">118</tspan></text>
<clipPath id="c4"><rect x="327.00" y="248.40" width="219.00" height="161.40"/></clipPath>
<text transform="translate(436.00 244.60) rotate(0.05)" font-size="7.40" text-anchor="middle">comparison of three interdependent models</text>
<g clip-path="url(#c4)">
<polygon points="337.37,253.90 339.74,255.63 338.84,258.42 335.90,258.42 334.99,255.63" fill="#ff0000" stroke="#ff0000" stroke-width="0.37"/>
<polygon points="382.52,255.10 384.90,256.83 383.99,259.62 381.05,259.62 380.14,256.83" fill="#ff0000" stroke="#ff0000" stroke-width="0.37"/>
<polygon points="408.94,255.90 411.31,257.63 410.40,260.42 407.47,260.42 406.56,257.63" fill="#ff0000" stroke="#ff0000" stroke-width="0.37"/>
<polygon points="427.68,257.50 430.05,259.23 429.15,262.02 426.21,262.02 425.30,259.23" fill="#ff0000" stroke="#ff0000" stroke-width="0.37"/>
<polygon points="442.21,258.40 444.59,260.13 443.68,262.92 440.74,262.92 439.83,260.13" fill="#ff0000" stroke="#ff0000" stroke-width="0.37"/>
<polygon points="454.09,260.60 456.47,262.33 455.56,265.12 452.62,265.12 451.71,262.33" fill="#ff0000" stroke="#ff0000" stroke-width="0.37"/>
<polygon points="464.13,262.30 466.51,264.03 465.60,266.82 462.66,266.82 461.75,264.03" fill="#ff0000" stroke="#ff0000" stroke-width="0.37"/>
<polygon points="472.83,264.50 475.21,266.23 474.30,269.02 471.36,269.02 470.45,266.23" fill="#ff0000" stroke="#ff0000" stroke-width="0.37"/>
<polygon points="480.50,266.00 482.88,267.73 481.97,270.52 479.03,270.52 478.13,267.73" fill="#ff0000" stroke="#ff0000" stroke-width="0.37"/>
<polygon points="487.37,267.60 489.74,269.33 488.84,272.12 485.90,272.12 484.99,269.33" fill="#ff0000" stroke="#ff0000" stroke-width="0.37"/>
<polygon points="493.58,268.90 495.95,270.63 495.05,273.42 492.11,273.42 491.20,270.63" fill="#ff0000" stroke="#ff0000" stroke-width="0.37"/>
<polygon points="499.24,270.40 501.62,272.13 500.71,274.92 497.77,274.92 496.87,272.13" fill="#ff0000" stroke="#ff0000" stroke-width="0.37"/>
<polygon points="504.46,273.70 506.84,275.43 505.93,278.22 502.99,278.22 502.08,275.43" fill="#ff0000" stroke="#ff0000" stroke-width="0.37"/>
<polygon points="509.29,275.90 511.66,277.63 510.76,280.42 507.82,280.42 506.91,277.63" fill="#ff0000" stroke="#ff0000" stroke-width="0.37"/>
<polygon points="513.78,278.00 516.16,279.73 515.25,282.52 512.31,282.52 511.40,279.73" fill="#ff0000" stroke="#ff0000" stroke-width="0.37"/>
<polygon points="517.99,281.30 520.36,283.03 519.45,285.82 516.52,285.82 515.61,283.03" fill="#ff0000" stroke="#ff0000" stroke-width="0.37"/>
<polygon points="521.93,287.40 524.31,289.13 523.40,291.92 520.46,291.92 519.56,289.13" fill="#ff0000" stroke="#ff0000" stroke-width="0.37"/>
<polygon points="525.66,294.50 528.04,296.23 527.13,299.02 524.19,299.02 523.28,296.23" fill="#ff0000" stroke="#ff0000" stroke-width="0.37"/>
<polygon points="529.18,314.20 531.56,315.93 530.65,318.72 527.71,318.72 526.80,315.93" fill="#ff0000" stroke="#ff0000" stroke-width="0.37"/>
<polygon points="532.52,324.80 534.90,326.53 533.99,329.32 531.05,329.32 530.14,326.53" fill="#ff0000" stroke="#ff0000" stroke-width="0.37"/>
<polygon points="535.70,334.90 538.08,336.63 537.17,339.42 534.23,339.42 533.32,336.63" fill="#ff0000" stroke="#ff0000" stroke-width="0.37"/>
<path d="M334.57 254.70L340.17 260.30M334.57 260.30L340.17 254.70" stroke="#ffa500" stroke-width="0.85" fill="none"/>
<path d="M379.72 256.20L385.32 261.80M379.72 261.80L385.32 256.20" stroke="#ffa500" stroke-width="0.85" fill="none"/>
<path d="M406.14 257.70L411.74 263.30M406.14 263.30L411.74 257.70" stroke="#ffa500" stroke-width="0.85" fill="none"/>
<path d="M424.88 258.90L430.48 264.50M424.88 264.50L430.48 258.90" stroke="#ffa500" stroke-width="0.85" fill="none"/>
<path d="M439.41 260.00L445.01 265.60M439.41 265.60L445.01 260.00" stroke="#ffa500" stroke-width="0.85" fill="none"/>
<path d="M451.29 262.00L456.89 267.60M451.29 267.60L456.89 262.00" stroke="#ffa500" stroke-width="0.85" fill="none"/>
<path d="M461.33 263.70L466.93 269.30M461.33 269.30L466.93 263.70" stroke="#ffa500" stroke-width="0.85" fill="none"/>
<path d="M470.03 265.40L475.63 271.00M470.03 271.00L475.63 265.40" stroke="#ffa500" stroke-width="0.85" fill="none"/>
<path d="M477.70 267.00L483.30 272.60M477.70 272.60L483.30 267.00" stroke="#ffa500" stroke-width="0.85" fill="none"/>
<path d="M484.57 268.60L490.17 274.20M484.57 274.20L490.17 268.60" stroke="#ffa500" stroke-width="0.85" fill="none"/>
<path d="M490.78 269.80L496.38 275.40M490.78 275.40L496.38 269.80" stroke="#ffa500" stroke-width="0.85" fill="none"/>
<path d="M496.44 271.30L502.04 276.90M496.44 276.90L502.04 271.30" stroke="#ffa500" stroke-width="0.85" fill="none"/>
<path d="M501.66 274.60L507.26 280.20M501.66 280.20L507.26 274.60" stroke="#ffa500" stroke-width="0.85" fill="none"/>
<path d="M506.49 276.60L512.09 282.20M506.49 282.20L512.09 276.60" stroke="#ffa500" stroke-width="0.85" fill="none"/>
<path d="M510.98 279.40L516.58 285.00M510.98 285.00L516.58 279.40" stroke="#ffa500" stroke-width="0.85" fill="none"/>
<path d="M515.19 282.70L520.79 288.30M515.19 288.30L520.79 282.70" stroke="#ffa500" stroke-width="0.85" fill="none"/>
<path d="M519.13 289.70L524.73 295.30M519.13 295.30L524.73 289.70" stroke="#ffa500" stroke-width="0.85" fill="none"/>
<path d="M522.86 298.80L528.46 304.40M522.86 304.40L528.46 298.80" stroke="#ffa500" stroke-width="0.85" fill="none"/>
<path d="M526.38 324.90L531.98 330.50M526.38 330.50L531.98 324.90" stroke="#ffa500" stroke-width="0.85" fill="none"/>
<path d="M529.72 361.00L535.32 366.60M529.72 366.60L535.32 361.00" stroke="#ffa500" stroke-width="0.85" fill="none"/>
<path d="M532.90 396.70L538.50 402.30M532.90 402.30L538.50 396.70" stroke="#ffa500" stroke-width="0.85" fill="none"/>
<circle cx="337.37" cy="258.00" r="2.68" fill="#0000ff"/>
<circle cx="382.52" cy="259.60" r="2.68" fill="#0000ff"/>
<circle cx="408.94" cy="261.00" r="2.68" fill="#0000ff"/>
<circle cx="427.68" cy="262.00" r="2.68" fill="#0000ff"/>
<circle cx="442.21" cy="263.10" r="2.68" fill="#0000ff"/>
<circle cx="454.09" cy="265.30" r="2.68" fill="#0000ff"/>
<circle cx="464.13" cy="267.00" r="2.68" fill="#0000ff"/>
<circle cx="472.83" cy="268.50" r="2.68" fill="#0000ff"/>
<circle cx="480.50" cy="270.10" r="2.68" fill="#0000ff"/>
<circle cx="487.37" cy="271.80" r="2.68" fill="#0000ff"/>
<circle cx="493.58" cy="272.90" r="2.68" fill="#0000ff"/>
<circle cx="499.24" cy="274.40" r="2.68" fill="#0000ff"/>
<circle cx="504.46" cy="277.90" r="2.68" fill="#0000ff"/>
<circle cx="509.29" cy="279.90" r="2.68" fill="#0000ff"/>
<circle cx="513.78" cy="282.70" r="2.68" fill="#0000ff"/>
<circle cx="517.99" cy="286.00" r="2.68" fill="#0000ff"/>
<circle cx="521.93" cy="293.60" r="2.68" fill="#0000ff"/>
<circle cx="525.66" cy="301.90" r="2.68" fill="#0000ff"/>
<circle cx="529.18" cy="329.20" r="2.68" fill="#0000ff"/>
<circle cx="532.52" cy="367.00" r="2.68" fill="#0000ff"/>
<circle cx="535.70" cy="401.60" r="2.68" fill="#0000ff"/>
<polyline points="337.37,256.40 382.52,257.60 408.94,258.40 427.68,260.00 442.21,260.90 454.09,263.10 464.13,264.80 472.83,267.00 480.50,268.50 487.37,270.10 493.58,271.40 499.24,272.90 504.46,276.20 509.29,278.40 513.78,280.50 517.99,283.80 521.93,289.90 525.66,297.00 529.18,316.70 532.52,327.30 535.70,337.40" fill="none" stroke="#2285b6" stroke-width="1.10" stroke-linejoin="round"/>
<polyline points="337.37,257.50 382.52,259.00 408.94,260.50 427.68,261.70 442.21,262.80 454.09,264.80 464.13,266.50 472.83,268.20 480.50,269.80 487.37,271.40 493.58,272.60 499.24,274.10 504.46,277.40 509.29,279.40 513.78,282.20 517.99,285.50 521.93,292.50 525.66,301.60 529.18,327.70 532.52,363.80 535.70,399.50" fill="none" stroke="#ff7c12" stroke-width="1.10" stroke-linejoin="round"/>
<polyline points="337.37,258.00 382.52,259.60 408.94,261.00 427.68,262.00 442.21,263.10 454.09,265.30 464.13,267.00 472.83,268.50 480.50,270.10 487.37,271.80 493.58,272.90 499.24,274.40 504.46,277.90 509.29,279.90 513.78,282.70 517.99,286.00 521.93,293.60 525.66,301.90 529.18,329.20 532.52,367.00 535.70,401.60" fill="none" stroke="#36aa34" stroke-width="1.10" stroke-linejoin="round"/>
</g>
<text transform="translate(385.70 420.00) rotate(0.05)" font-size="6.08" text-anchor="middle">10<tspan dy="-2.55" font-size="4.26">−1</tspan></text>
<text transform="translate(322.00 344.80) rotate(0.05)" font-size="6.08" text-anchor="end">10<tspan dy="-2.55" font-size="4.26">−1</tspan></text>
<text transform="translate(535.70 420.00) rotate(0.05)" font-size="6.08" text-anchor="middle">10<tspan dy="-2.55" font-size="4.26">0</tspan></text>
<text transform="translate(322.00 258.60) rotate(0.05)" font-size="6.08" text-anchor="end">10<tspan dy="-2.55" font-size="4.26">0</tspan></text>
<path d="M327.00 402.15h-1.22" stroke="#000" stroke-width="0.37"/><path d="M327.00 386.97h-1.22" stroke="#000" stroke-width="0.37"/><path d="M327.00 376.20h-1.22" stroke="#000" stroke-width="0.37"/><path d="M340.55 409.80v1.22" stroke="#000" stroke-width="0.37"/><path d="M327.00 367.85h-1.22" stroke="#000" stroke-width="0.37"/><path d="M352.42 409.80v1.22" stroke="#000" stroke-width="0.37"/><path d="M327.00 361.02h-1.22" stroke="#000" stroke-width="0.37"/><path d="M362.46 409.80v1.22" stroke="#000" stroke-width="0.37"/><path d="M327.00 355.25h-1.22" stroke="#000" stroke-width="0.37"/><path d="M371.16 409.80v1.22" stroke="#000" stroke-width="0.37"/><path d="M327.00 350.25h-1.22" stroke="#000" stroke-width="0.37"/><path d="M378.84 409.80v1.22" stroke="#000" stroke-width="0.37"/><path d="M327.00 345.84h-1.22" stroke="#000" stroke-width="0.37"/><path d="M385.70 409.80v2.13" stroke="#000" stroke-width="0.49"/><path d="M327.00 341.90h-2.13" stroke="#000" stroke-width="0.49"/><path d="M430.85 409.80v1.22" stroke="#000" stroke-width="0.37"/><path d="M327.00 315.95h-1.22" stroke="#000" stroke-width="0.37"/><path d="M457.27 409.80v1.22" stroke="#000" stroke-width="0.37"/><path d="M327.00 300.77h-1.22" stroke="#000" stroke-width="0.37"/><path d="M476.01 409.80v1.22" stroke="#000" stroke-width="0.37"/><path d="M327.00 290.00h-1.22" stroke="#000" stroke-width="0.37"/><path d="M490.55 409.80v1.22" stroke="#000" stroke-width="0.37"/><path d="M327.00 281.65h-1.22" stroke="#000" stroke-width="0.37"/><path d="M502.42 409.80v1.22" stroke="#000" stroke-width="0.37"/><path d="M327.00 274.82h-1.22" stroke="#000" stroke-width="0.37"/><path d="M512.46 409.80v1.22" stroke="#000" stroke-width="0.37"/><path d="M327.00 269.05h-1.22" stroke="#000" stroke-width="0.37"/><path d="M521.16 409.80v1.22" stroke="#000" stroke-width="0.37"/><path d="M327.00 264.05h-1.22" stroke="#000" stroke-width="0.37"/><path d="M528.84 409.80v1.22" stroke="#000" stroke-width="0.37"/><path d="M327.00 259.64h-1.22" stroke="#000" stroke-width="0.37"/><path d="M535.70 409.80v2.13" stroke="#000" stroke-width="0.49"/><path d="M327.00 255.70h-2.13" stroke="#000" stroke-width="0.49"/>
<rect x="327.00" y="248.40" width="219.00" height="161.40" fill="none" stroke="#000" stroke-width="0.55"/>
<text transform="translate(436.50 429.50) rotate(0.05)" font-size="6.08" text-anchor="middle">q</text>
<text transform="translate(303.70 330.20) rotate(-89.95)" font-size="6.08" text-anchor="middle">Lp</text>
<rect x="329.40" y="385.80" width="90.40" height="20.80" rx="1.2" fill="#fff" fill-opacity="0.8" stroke="#e0e0e0" stroke-width="0.55"/>
<path d="M332.00 390.60h13" stroke="#ff0000" stroke-width="1.10"/>
<polygon points="338.50,388.10 340.88,389.83 339.97,392.62 337.03,392.62 336.12,389.83" fill="#ff0000" stroke="#ff0000" stroke-width="0.37"/>
<text transform="translate(350.20 392.85) rotate(0.05)" font-size="6.20"><tspan font-style="italic">D</tspan><tspan dx="1.2">−</tspan><tspan dx="1.2" font-style="italic">ED</tspan></text>
<path d="M332.00 399.90h13" stroke="#ffa500" stroke-width="1.10"/>
<path d="M335.70 397.10L341.30 402.70M335.70 402.70L341.30 397.10" stroke="#ffa500" stroke-width="0.85" fill="none"/>
<text transform="translate(350.20 402.15) rotate(0.05)" font-size="6.20"><tspan font-style="italic">D</tspan><tspan dx="1.2">−</tspan><tspan dx="1.2" font-style="italic">B</tspan></text>
<path d="M382.90 390.60h13" stroke="#0000ff" stroke-width="1.10"/>
<circle cx="389.40" cy="390.60" r="2.68" fill="#0000ff"/>
<text transform="translate(401.10 392.85) rotate(0.05)" font-size="6.20"><tspan font-style="italic">R</tspan><tspan dx="1.2">−</tspan><tspan dx="1.2" font-style="italic">R</tspan></text>
<g class="in">
<clipPath id="ci"><rect x="359.50" y="287.70" width="118.20" height="85.40"/></clipPath>
<rect x="359.50" y="287.70" width="118.20" height="85.40" fill="#fff"/>
<g clip-path="url(#ci)">
<polygon points="366.71,301.51 367.90,302.38 367.44,303.78 365.98,303.78 365.52,302.38" fill="#ff0000" stroke="#ff0000" stroke-width="0.21"/>
<polygon points="383.86,302.70 385.05,303.56 384.60,304.96 383.13,304.96 382.67,303.56" fill="#ff0000" stroke="#ff0000" stroke-width="0.21"/>
<polygon points="399.83,303.82 401.02,304.69 400.56,306.09 399.09,306.09 398.64,304.69" fill="#ff0000" stroke="#ff0000" stroke-width="0.21"/>
<polygon points="414.76,305.60 415.95,306.46 415.50,307.86 414.03,307.86 413.58,306.46" fill="#ff0000" stroke="#ff0000" stroke-width="0.21"/>
<polygon points="428.80,308.87 429.98,309.74 429.53,311.13 428.06,311.13 427.61,309.74" fill="#ff0000" stroke="#ff0000" stroke-width="0.21"/>
<polygon points="442.02,312.69 443.21,313.55 442.76,314.95 441.29,314.95 440.84,313.55" fill="#ff0000" stroke="#ff0000" stroke-width="0.21"/>
<polygon points="454.54,323.27 455.73,324.13 455.27,325.53 453.80,325.53 453.35,324.13" fill="#ff0000" stroke="#ff0000" stroke-width="0.21"/>
<polygon points="466.41,328.96 467.60,329.83 467.14,331.22 465.67,331.22 465.22,329.83" fill="#ff0000" stroke="#ff0000" stroke-width="0.21"/>
<polygon points="477.70,334.39 478.89,335.25 478.43,336.65 476.97,336.65 476.51,335.25" fill="#ff0000" stroke="#ff0000" stroke-width="0.21"/>
<path d="M365.31 302.01L368.11 304.81M365.31 304.81L368.11 302.01" stroke="#ffa500" stroke-width="0.49" fill="none"/>
<path d="M382.46 303.08L385.26 305.88M382.46 305.88L385.26 303.08" stroke="#ffa500" stroke-width="0.49" fill="none"/>
<path d="M398.43 304.59L401.23 307.39M398.43 307.39L401.23 304.59" stroke="#ffa500" stroke-width="0.49" fill="none"/>
<path d="M413.36 306.36L416.16 309.16M413.36 309.16L416.16 306.36" stroke="#ffa500" stroke-width="0.49" fill="none"/>
<path d="M427.40 310.12L430.20 312.92M427.40 312.92L430.20 310.12" stroke="#ffa500" stroke-width="0.49" fill="none"/>
<path d="M440.62 315.01L443.42 317.81M440.62 317.81L443.42 315.01" stroke="#ffa500" stroke-width="0.49" fill="none"/>
<path d="M453.14 329.03L455.94 331.83M453.14 331.83L455.94 329.03" stroke="#ffa500" stroke-width="0.49" fill="none"/>
<path d="M465.01 348.42L467.81 351.22M465.01 351.22L467.81 348.42" stroke="#ffa500" stroke-width="0.49" fill="none"/>
<path d="M476.30 367.59L479.10 370.39M476.30 370.39L479.10 367.59" stroke="#ffa500" stroke-width="0.49" fill="none"/>
<circle cx="366.71" cy="303.68" r="1.35" fill="#0000ff"/>
<circle cx="383.86" cy="304.75" r="1.35" fill="#0000ff"/>
<circle cx="399.83" cy="306.26" r="1.35" fill="#0000ff"/>
<circle cx="414.76" cy="308.03" r="1.35" fill="#0000ff"/>
<circle cx="428.80" cy="312.11" r="1.35" fill="#0000ff"/>
<circle cx="442.02" cy="316.57" r="1.35" fill="#0000ff"/>
<circle cx="454.54" cy="331.23" r="1.35" fill="#0000ff"/>
<circle cx="466.41" cy="351.54" r="1.35" fill="#0000ff"/>
<circle cx="477.70" cy="370.12" r="1.35" fill="#0000ff"/>
<polyline points="-226.91,292.13 -66.49,292.77 27.35,293.20 93.93,294.06 145.57,294.55 187.77,295.73 223.44,296.64 254.35,297.82 281.61,298.63 305.99,299.49 328.05,300.19 348.19,300.99 366.71,302.76 383.86,303.95 399.83,305.07 414.76,306.85 428.80,310.12 442.02,313.94 454.54,324.52 466.41,330.21 477.70,335.64" fill="none" stroke="#2285b6" stroke-width="0.61" stroke-linejoin="round"/>
<polyline points="-226.91,292.72 -66.49,293.53 27.35,294.33 93.93,294.98 145.57,295.57 187.77,296.64 223.44,297.55 254.35,298.47 281.61,299.33 305.99,300.19 328.05,300.83 348.19,301.64 366.71,303.41 383.86,304.48 399.83,305.99 414.76,307.76 428.80,311.52 442.02,316.41 454.54,330.43 466.41,349.82 477.70,368.99" fill="none" stroke="#ff7c12" stroke-width="0.61" stroke-linejoin="round"/>
<polyline points="-226.91,292.99 -66.49,293.85 27.35,294.60 93.93,295.14 145.57,295.73 187.77,296.91 223.44,297.82 254.35,298.63 281.61,299.49 305.99,300.40 328.05,300.99 348.19,301.80 366.71,303.68 383.86,304.75 399.83,306.26 414.76,308.03 428.80,312.11 442.02,316.57 454.54,331.23 466.41,351.54 477.70,370.12" fill="none" stroke="#36aa34" stroke-width="0.61" stroke-linejoin="round"/>
</g>
<text transform="translate(359.48 379.10) rotate(0.05)" font-size="3.35" text-anchor="middle">6×10<tspan dy="-1.41" font-size="2.34">−1</tspan></text>
<text transform="translate(395.15 379.10) rotate(0.05)" font-size="3.35" text-anchor="middle">7×10<tspan dy="-1.41" font-size="2.34">−1</tspan></text>
<text transform="translate(426.06 379.10) rotate(0.05)" font-size="3.35" text-anchor="middle">8×10<tspan dy="-1.41" font-size="2.34">−1</tspan></text>
<text transform="translate(453.32 379.10) rotate(0.05)" font-size="3.35" text-anchor="middle">9×10<tspan dy="-1.41" font-size="2.34">−1</tspan></text>
<text transform="translate(477.70 379.10) rotate(0.05)" font-size="3.35" text-anchor="middle">10<tspan dy="-1.41" font-size="2.34">0</tspan></text>
<text transform="translate(357.10 339.30) rotate(0.05)" font-size="3.35" text-anchor="end">10<tspan dy="-1.41" font-size="2.34">−1</tspan></text>
<text transform="translate(357.10 293.00) rotate(0.05)" font-size="3.35" text-anchor="end">10<tspan dy="-1.41" font-size="2.34">0</tspan></text>
<path d="M359.48 373.10v0.70" stroke="#000" stroke-width="0.3"/><path d="M395.15 373.10v0.70" stroke="#000" stroke-width="0.3"/><path d="M426.06 373.10v0.70" stroke="#000" stroke-width="0.3"/><path d="M453.32 373.10v0.70" stroke="#000" stroke-width="0.3"/><path d="M477.70 373.10v1.20" stroke="#000" stroke-width="0.3"/><path d="M359.50 338.00h-1.20" stroke="#000" stroke-width="0.3"/><path d="M359.50 324.06h-0.70" stroke="#000" stroke-width="0.3"/><path d="M359.50 315.91h-0.70" stroke="#000" stroke-width="0.3"/><path d="M359.50 310.12h-0.70" stroke="#000" stroke-width="0.3"/><path d="M359.50 305.64h-0.70" stroke="#000" stroke-width="0.3"/><path d="M359.50 301.97h-0.70" stroke="#000" stroke-width="0.3"/><path d="M359.50 298.87h-0.70" stroke="#000" stroke-width="0.3"/><path d="M359.50 296.19h-0.70" stroke="#000" stroke-width="0.3"/><path d="M359.50 293.82h-0.70" stroke="#000" stroke-width="0.3"/><path d="M359.50 291.70h-1.20" stroke="#000" stroke-width="0.3"/>
<rect x="359.50" y="287.70" width="118.20" height="85.40" fill="none" stroke="#000" stroke-width="0.4"/>
<rect x="427.30" y="289.70" width="48.30" height="10.40" rx="0.7" fill="#fff" fill-opacity="0.8" stroke="#ccc" stroke-width="0.35"/>
<path d="M428.60 292.60h7.0" stroke="#ff0000" stroke-width="0.61"/>
<polygon points="432.10,291.35 433.29,292.21 432.83,293.61 431.37,293.61 430.91,292.21" fill="#ff0000" stroke="#ff0000" stroke-width="0.21"/>
<text transform="translate(438.20 293.80) rotate(0.05)" font-size="3.35"><tspan font-style="italic">D</tspan><tspan dx="0.6">−</tspan><tspan dx="0.6" font-style="italic">ED</tspan></text>
<path d="M428.60 297.40h7.0" stroke="#ffa500" stroke-width="0.61"/>
<path d="M430.70 296.00L433.50 298.80M430.70 298.80L433.50 296.00" stroke="#ffa500" stroke-width="0.49" fill="none"/>
<text transform="translate(438.20 298.60) rotate(0.05)" font-size="3.35"><tspan font-style="italic">D</tspan><tspan dx="0.6">−</tspan><tspan dx="0.6" font-style="italic">B</tspan></text>
<path d="M456.20 292.60h7.0" stroke="#0000ff" stroke-width="0.61"/>
<circle cx="459.70" cy="292.60" r="1.35" fill="#0000ff"/>
<text transform="translate(465.80 293.80) rotate(0.05)" font-size="3.35"><tspan font-style="italic">R</tspan><tspan dx="0.6">−</tspan><tspan dx="0.6" font-style="italic">R</tspan></text>
</g>
</svg>
</body></html>
